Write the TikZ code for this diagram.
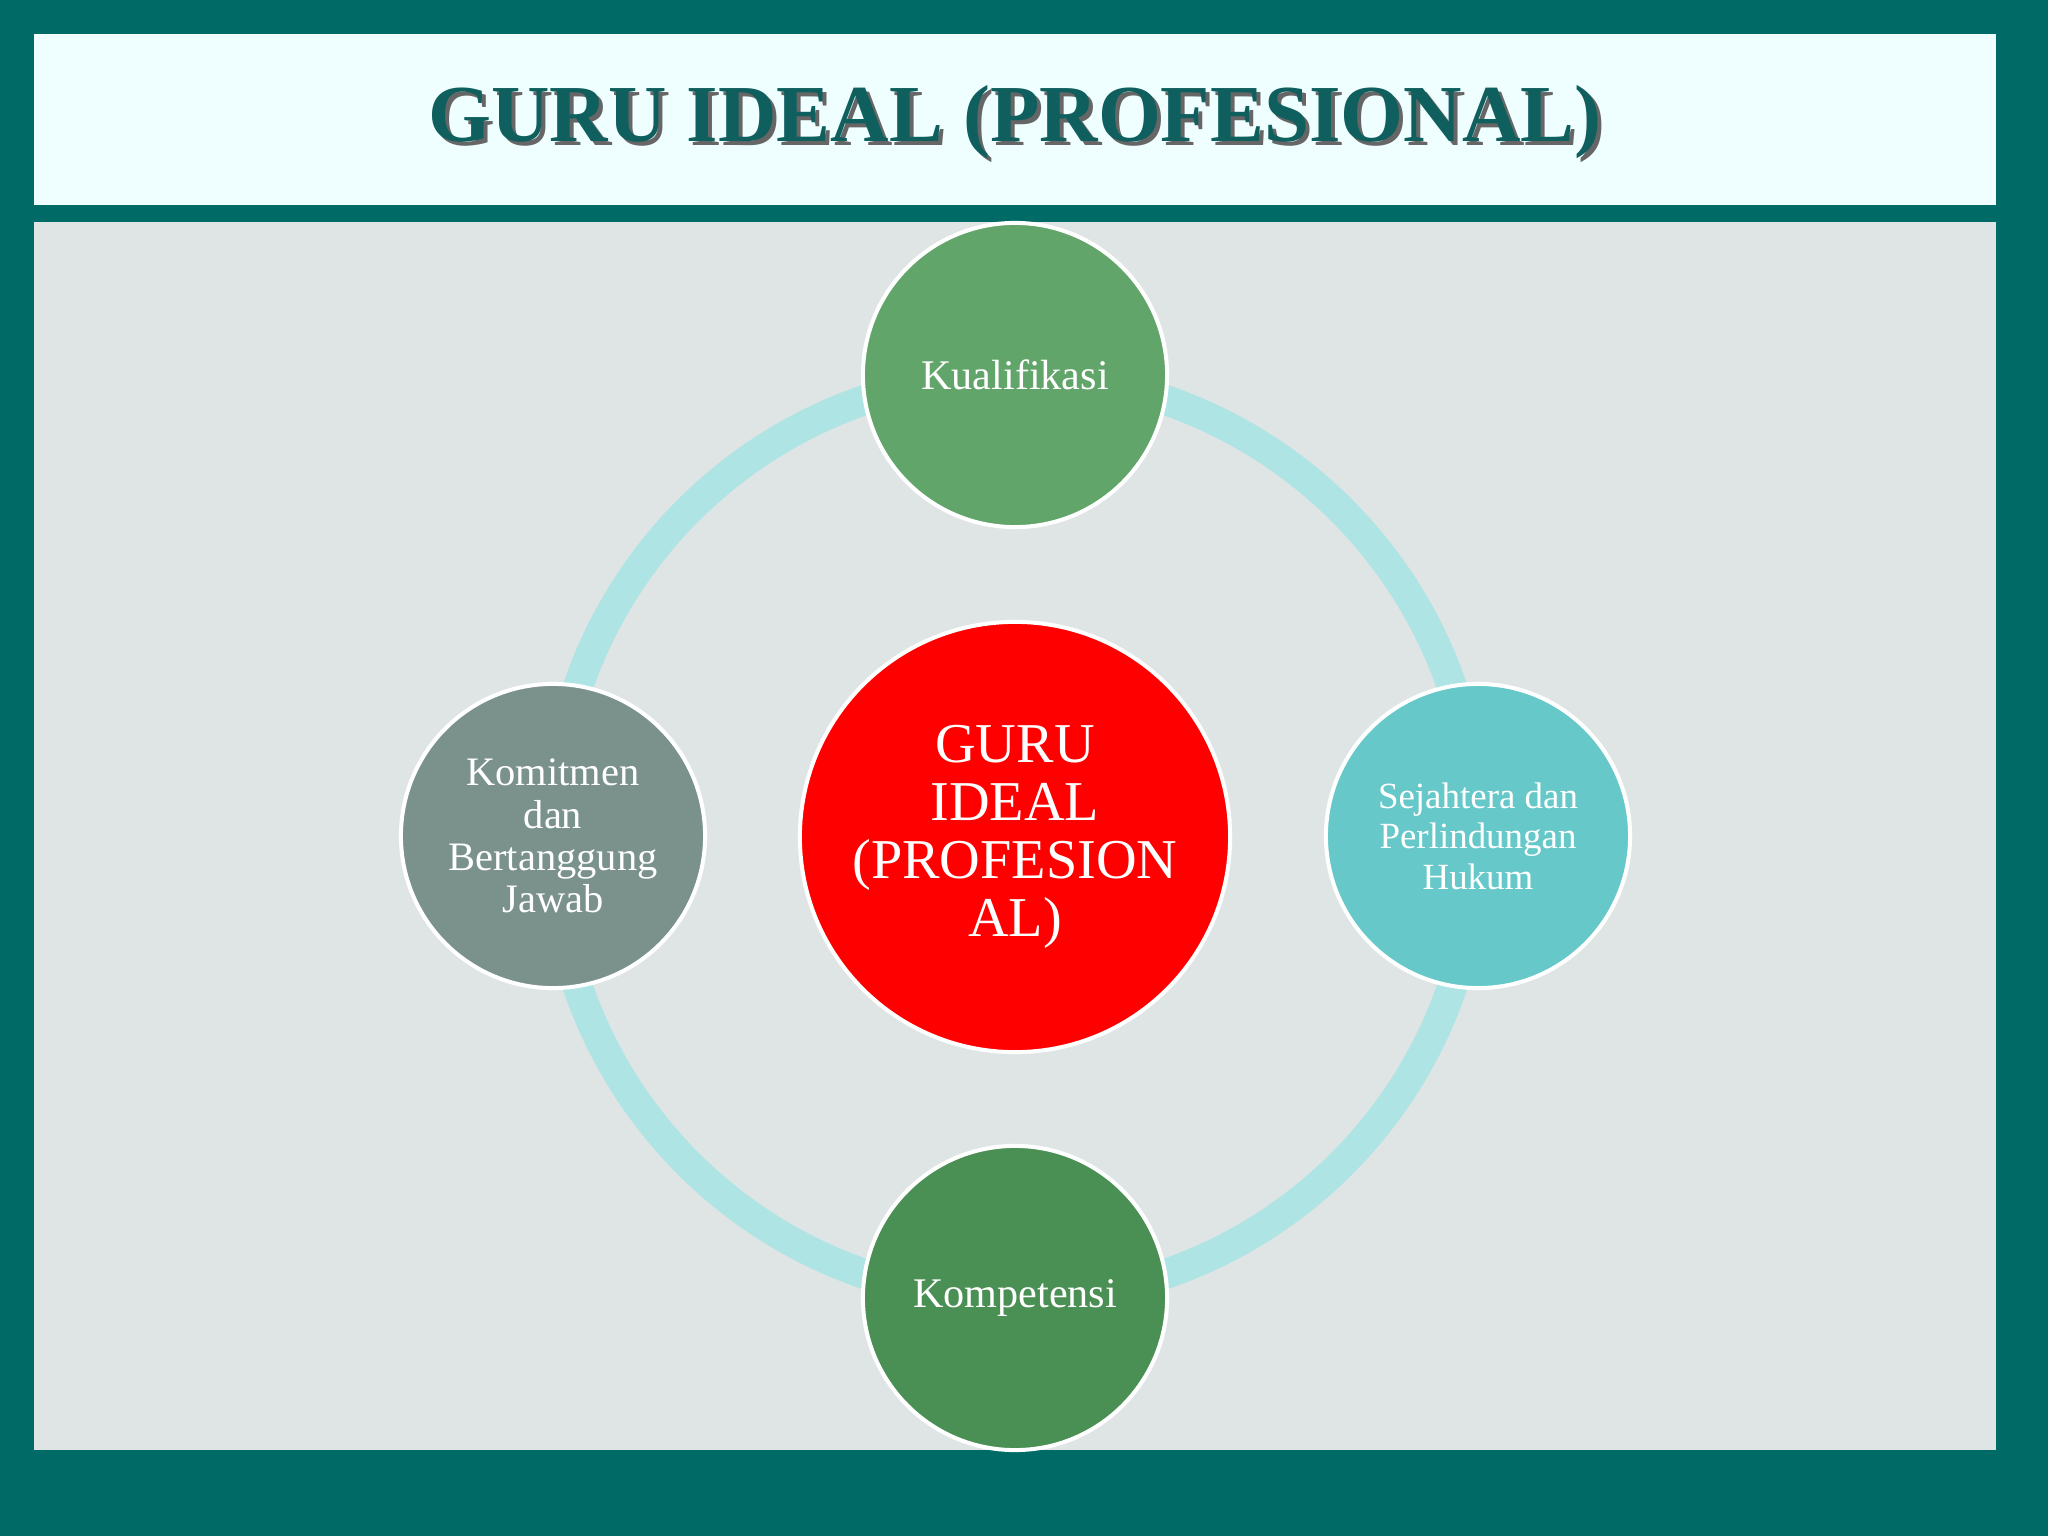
\documentclass[tikz,border=0pt]{standalone}
\usepackage{fontspec}
\setmainfont{Liberation Serif}
\definecolor{bgteal}{HTML}{006A66}
\definecolor{titlebg}{HTML}{EFFFFF}
\definecolor{panel}{HTML}{DFE5E5}
\definecolor{ring}{HTML}{AEE4E3}
\definecolor{titlec}{HTML}{0F5F5E}
\definecolor{cTop}{HTML}{62A56A}
\definecolor{cBot}{HTML}{4A8F54}
\definecolor{cLeft}{HTML}{7A918C}
\definecolor{cRight}{HTML}{66C8C8}
\tikzset{bub/.style={circle,draw=white,line width=0.4mm,text=white,align=center,inner sep=0pt,font=\fontsize{12pt}{13pt}\selectfont}}
\begin{document}
\begin{tikzpicture}[x=0.01cm,y=-0.01cm]
\fill[bgteal] (0,0) rectangle (2048,1536);
\fill[titlebg] (34,34) rectangle (1996,205);
\fill[panel] (34,222) rectangle (1996,1450);
\node[text=black!60,font=\bfseries\fontsize{23pt}{25pt}\selectfont] (tshadow) at (1019,126) {GURU IDEAL (PROFESIONAL)};
\node[text=titlec,font=\bfseries\fontsize{23pt}{25pt}\selectfont] (title) at (1015,122) {GURU IDEAL (PROFESIONAL)};
\draw[ring,line width=3mm] (1015,837) circle (462);
\node[bub,fill=red,minimum size=4.3cm,font=\fontsize{16pt}{16.5pt}\selectfont] (c) at (1015,837) {GURU\\IDEAL\\(PROFESION\\AL)};
\node[bub,fill=cTop,minimum size=3.04cm] (k) at (1015,375) {Kualifikasi};
\node[bub,fill=cBot,minimum size=3.04cm] (p) at (1015,1298) {Kompetensi};
\node[bub,fill=cLeft,minimum size=3.04cm,font=\fontsize{11.5pt}{12pt}\selectfont] (l) at (553,836) {Komitmen\\dan\\Bertanggung\\Jawab};
\node[bub,fill=cRight,minimum size=3.04cm,font=\fontsize{10.5pt}{11.5pt}\selectfont] (r) at (1478,836) {Sejahtera dan\\Perlindungan\\Hukum};
\end{tikzpicture}
\end{document}
